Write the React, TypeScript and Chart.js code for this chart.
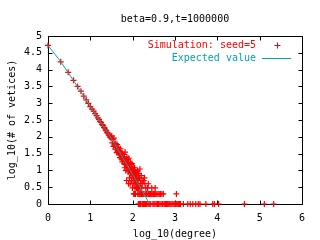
import { useEffect, useRef } from "react";
import { Chart, registerables } from "chart.js";

Chart.register(...registerables);

const TITLE = "beta=0.9,t=1000000";
const X_LABEL = "log_10(degree)";
const Y_LABEL = "log_10(# of vetices)";
const SIM_LABEL = "Simulation: seed=5";
const EXP_LABEL = "Expected value";

// vertex counts for degrees 1,2,3,... (degree = position + 1)
const denseCounts = [
  52500, 17000, 8300, 4800, 3150, 2280, 1630, 1250, 985, 790,
  670, 580, 488, 430, 368, 330, 285, 268, 230, 218,
  190, 181, 158, 150, 134, 129, 113, 112, 99, 97,
  91, 107, 66, 84, 52, 91, 58, 62, 43, 63,
  49, 34, 59, 38, 45, 39, 47, 30, 39, 24,
  44, 28, 31, 22, 32, 25, 18, 31, 21, 25,
  22, 30, 16, 23, 12, 35, 15, 19, 10, 22,
  15, 5, 25, 12, 17, 14, 21, 9, 16, 4,
  23, 10, 12, 6, 15, 10, 4, 17, 8, 11,
  9, 15, 5, 11, 5, 16, 7, 9, 3, 11,
  7, 4, 12, 6, 8, 2, 10, 4, 8, 2,
  12, 5, 6, 3, 8, 5, 2, 9, 4, 6,
  5, 8, 3, 6, 3, 9, 4, 5, 3, 10,
  4, 2, 7, 3, 5, 1, 6, 3, 8, 2,
];

// sparse tail: degrees and their vertex counts
const tailDegrees = [
  142, 144, 145, 147, 148, 150, 152, 153, 155, 157, 158, 160, 162, 164, 166, 168, 170, 172, 175, 177,
  180, 182, 185, 188, 190, 193, 195, 198, 200, 205, 208, 212, 215, 220, 225, 230, 234, 238, 242, 248,
  255, 262, 268, 275, 283, 290, 300, 310, 318, 325, 335, 340, 350, 360, 372, 385, 398, 410, 425, 440,
  455, 470, 490, 510, 530, 550, 575, 600, 630, 660, 690, 720, 760, 800, 850, 900, 960, 1020, 1070, 1080,
  1130, 1200, 1280, 1350, 1580, 2000, 2290, 2630, 3090, 3550, 3890, 5370, 7760, 8510, 10700, 43700, 129000, 214000,
];
const tailCounts = [
  3, 1, 6, 2, 11, 2, 4, 1, 3, 2, 5, 7, 2, 3, 1, 4, 2, 1, 5, 2,
  1, 5, 2, 1, 6, 1, 4, 2, 1, 3, 1, 2, 1, 2, 3, 1, 4, 2, 1, 2,
  1, 2, 1, 2, 3, 2, 1, 2, 1, 2, 1, 3, 2, 1, 2, 1, 2, 1, 2, 1,
  2, 1, 2, 1, 2, 1, 1, 1, 1, 1, 1, 1, 1, 1, 1, 1, 1, 1, 1, 2,
  1, 1, 1, 1, 1, 1, 1, 1, 1, 1, 1, 1, 1, 1, 1, 1, 1, 1,
];

// expected value curve (log10 degree, log10 count)
const expLogDegree = [0, 0.3, 0.6, 1.0, 1.5, 2.0, 2.2, 2.4];
const expLogCount = [4.72, 4.24, 3.68, 2.91, 1.94, 0.88, 0.44, 0];

const X_MIN = 0, X_MAX = 6, X_STEP = 1;
const Y_MIN = 0, Y_MAX = 5, Y_STEP = 0.5;

const FONT = "'DejaVu Sans Mono', monospace";
const SIM_COLOR = "#ff0000";
const EXP_COLOR = "#00a8a8";

const framePlugin = {
  id: "gnuFrame",
  beforeDatasetsDraw(chart: any) {
    const { ctx, chartArea: a, scales } = chart;
    const L = Math.round(a.left) + 0.5, R = Math.round(a.right) + 0.5;
    const T = Math.round(a.top) + 0.5, B = Math.round(a.bottom) + 0.5;
    ctx.save();
    ctx.strokeStyle = "#000";
    ctx.lineWidth = 1;
    ctx.beginPath();
    ctx.rect(L, T, R - L, B - T);
    const tl = 4;
    scales.x.ticks.forEach((t: any) => {
      const px = Math.round(scales.x.getPixelForValue(t.value)) + 0.5;
      ctx.moveTo(px, B); ctx.lineTo(px, B - tl);
      ctx.moveTo(px, T); ctx.lineTo(px, T + tl);
    });
    scales.y.ticks.forEach((t: any) => {
      const py = Math.round(scales.y.getPixelForValue(t.value)) + 0.5;
      ctx.moveTo(L, py); ctx.lineTo(L + tl, py);
      ctx.moveTo(R, py); ctx.lineTo(R - tl, py);
    });
    ctx.stroke();
    ctx.restore();
  },
};

const legendPlugin = {
  id: "gnuLegend",
  afterDraw(chart: any) {
    const { ctx, chartArea: a } = chart;
    ctx.save();
    ctx.font = `10px ${FONT}`;
    ctx.textAlign = "right";
    ctx.textBaseline = "middle";
    const textRight = a.right - 46;
    const sL = a.right - 40, sR = a.right - 11;
    chart.data.datasets.forEach((ds: any, i: number) => {
      const y = Math.round(a.top + 9 + i * 13) + 0.5;
      ctx.fillStyle = ds.borderColor;
      ctx.fillText(ds.label, textRight, y);
      ctx.strokeStyle = ds.borderColor;
      ctx.lineWidth = 1;
      ctx.beginPath();
      if (ds.showLine) {
        ctx.moveTo(sL, y); ctx.lineTo(sR, y);
      } else {
        const cx = Math.round((sL + sR) / 2) + 0.5;
        ctx.moveTo(cx - 3, y); ctx.lineTo(cx + 3, y);
        ctx.moveTo(cx, y - 3); ctx.lineTo(cx, y + 3);
      }
      ctx.stroke();
    });
    ctx.restore();
  },
};

export default function App() {
  const ref = useRef<HTMLCanvasElement>(null);
  useEffect(() => {
    if (!ref.current) return;
    const simPoints = [
      ...denseCounts.map((c, i) => ({ x: Math.log10(i + 1), y: Math.log10(c) })),
      ...tailDegrees.map((d, i) => ({ x: Math.log10(d), y: Math.log10(tailCounts[i]) })),
    ];
    const expPoints = expLogDegree.map((x, i) => ({ x, y: expLogCount[i] }));
    const chart = new Chart(ref.current, {
      type: "scatter",
      data: {
        datasets: [
          {
            label: SIM_LABEL,
            data: simPoints,
            showLine: false,
            pointStyle: "cross",
            pointRadius: 3,
            pointBorderWidth: 1.2,
            borderColor: SIM_COLOR,
            backgroundColor: SIM_COLOR,
            borderWidth: 1.2,
            clip: false,
            order: 1,
          } as any,
          {
            label: EXP_LABEL,
            data: expPoints,
            showLine: true,
            pointRadius: 0,
            borderColor: EXP_COLOR,
            backgroundColor: EXP_COLOR,
            borderWidth: 1,
            tension: 0,
            clip: false,
            order: 0,
          } as any,
        ],
      },
      options: {
        animation: false,
        responsive: false,
        devicePixelRatio: 1,
        layout: { padding: { left: 0, right: 18, top: 0, bottom: 0 } },
        plugins: {
          legend: { display: false },
          tooltip: { enabled: false },
          title: {
            display: true,
            text: TITLE,
            fullSize: false,
            color: "#000",
            font: { family: FONT, size: 10, weight: "normal" as any, lineHeight: 1.2 },
            padding: { top: 13, bottom: 11 },
          },
        },
        scales: {
          x: {
            type: "linear",
            min: X_MIN,
            max: X_MAX,
            grid: { display: false, drawTicks: false },
            border: { display: false },
            ticks: {
              stepSize: X_STEP,
              color: "#000",
              padding: 8,
              font: { family: FONT, size: 10 },
              maxRotation: 0,
              callback: (v: any) => String(v),
            },
            title: {
              display: true,
              text: X_LABEL,
              color: "#000",
              font: { family: FONT, size: 10, lineHeight: 1.2 },
              padding: { top: 0, bottom: 0 },
            },
            afterFit: (s: any) => { s.height = 36; },
          },
          y: {
            type: "linear",
            min: Y_MIN,
            max: Y_MAX,
            grid: { display: false, drawTicks: false },
            border: { display: false },
            ticks: {
              stepSize: Y_STEP,
              color: "#000",
              padding: 6,
              font: { family: FONT, size: 10 },
              callback: (v: any) => String(v),
            },
            title: {
              display: true,
              text: Y_LABEL,
              color: "#000",
              font: { family: FONT, size: 10, lineHeight: 1.2 },
              padding: { top: 6.5, bottom: 0 },
            },
            afterFit: (s: any) => { s.width = 48; },
          },
        },
      },
      plugins: [framePlugin, legendPlugin],
    });
    return () => chart.destroy();
  }, []);
  return (
    <div style={{ position: "fixed", left: 0, top: 0, width: 320, height: 240, background: "#fff" }}>
      <canvas ref={ref} width={320} height={240} style={{ display: "block" }} />
    </div>
  );
}
